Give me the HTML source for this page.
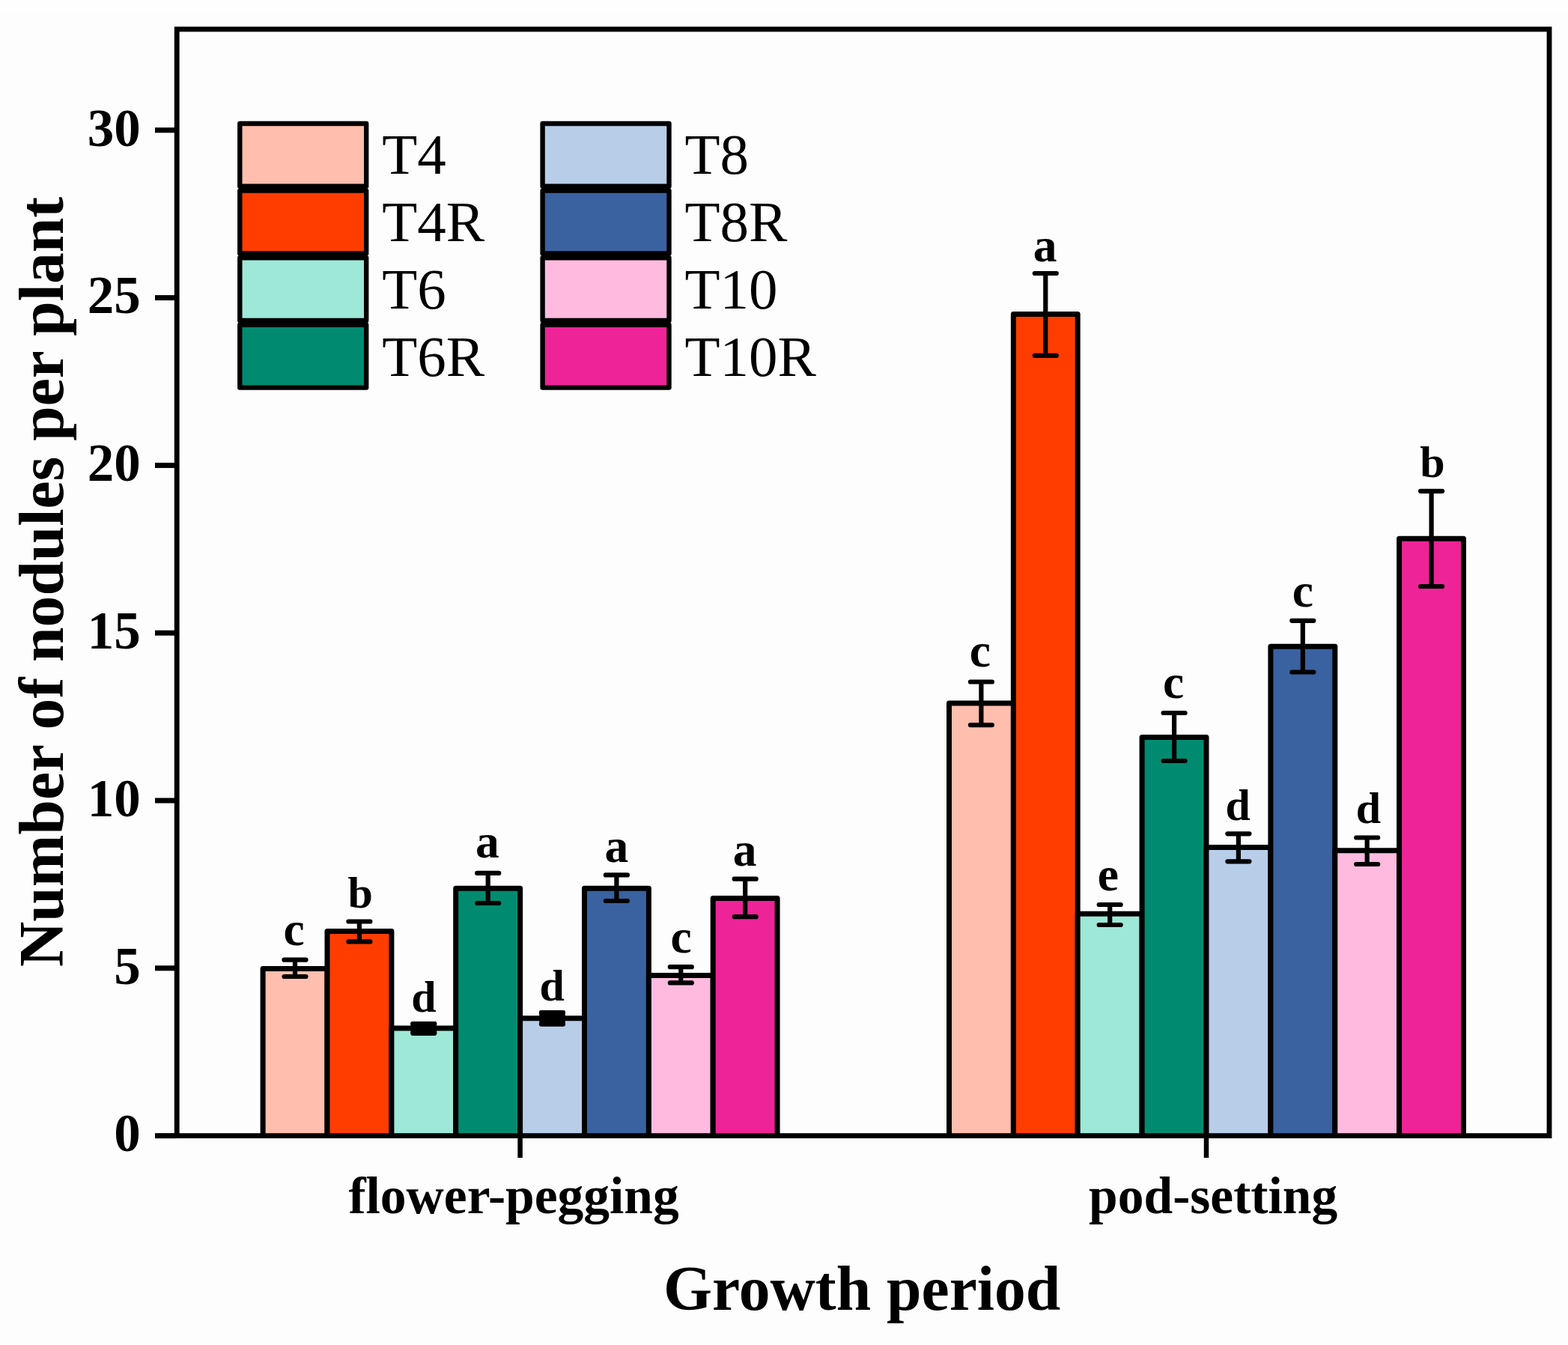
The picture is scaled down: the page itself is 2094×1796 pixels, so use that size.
<!DOCTYPE html><html><head><meta charset="utf-8"><style>html,body{margin:0;padding:0;background:#fdfdfd;}svg{display:block;}text{font-family:"Liberation Serif","Times New Roman",serif;}</style></head><body>
<svg width="2094" height="1796" viewBox="0 0 2094 1796">
<rect x="0" y="0" width="2094" height="1796" fill="#fdfdfd"/><rect x="0" y="0" width="2094" height="18" fill="#fefefe"/>
<path d="M351.1 1516.6V1293.5H437.0V1516.6" fill="#FFBEAE" stroke="#000" stroke-width="7" stroke-linejoin="round"/>
<path d="M437.0 1516.6V1243.4H522.9V1516.6" fill="#FF3D00" stroke="#000" stroke-width="7" stroke-linejoin="round"/>
<path d="M522.9 1516.6V1373.0H608.7V1516.6" fill="#9EE8D8" stroke="#000" stroke-width="7" stroke-linejoin="round"/>
<path d="M608.7 1516.6V1186.3H694.6V1516.6" fill="#008B70" stroke="#000" stroke-width="7" stroke-linejoin="round"/>
<path d="M694.6 1516.6V1359.7H780.5V1516.6" fill="#B8CDE8" stroke="#000" stroke-width="7" stroke-linejoin="round"/>
<path d="M780.5 1516.6V1186.3H866.4V1516.6" fill="#3A62A0" stroke="#000" stroke-width="7" stroke-linejoin="round"/>
<path d="M866.4 1516.6V1302.6H952.2V1516.6" fill="#FFBBDF" stroke="#000" stroke-width="7" stroke-linejoin="round"/>
<path d="M952.2 1516.6V1199.4H1038.1V1516.6" fill="#EE2398" stroke="#000" stroke-width="7" stroke-linejoin="round"/>
<path d="M1267.5 1516.6V939.0H1353.4V1516.6" fill="#FFBEAE" stroke="#000" stroke-width="7" stroke-linejoin="round"/>
<path d="M1353.4 1516.6V419.5H1439.2V1516.6" fill="#FF3D00" stroke="#000" stroke-width="7" stroke-linejoin="round"/>
<path d="M1439.2 1516.6V1220.3H1525.1V1516.6" fill="#9EE8D8" stroke="#000" stroke-width="7" stroke-linejoin="round"/>
<path d="M1525.1 1516.6V984.5H1611.0V1516.6" fill="#008B70" stroke="#000" stroke-width="7" stroke-linejoin="round"/>
<path d="M1611.0 1516.6V1131.4H1696.9V1516.6" fill="#B8CDE8" stroke="#000" stroke-width="7" stroke-linejoin="round"/>
<path d="M1696.9 1516.6V863.2H1782.8V1516.6" fill="#3A62A0" stroke="#000" stroke-width="7" stroke-linejoin="round"/>
<path d="M1782.8 1516.6V1135.8H1868.6V1516.6" fill="#FFBBDF" stroke="#000" stroke-width="7" stroke-linejoin="round"/>
<path d="M1868.6 1516.6V719.3H1954.5V1516.6" fill="#EE2398" stroke="#000" stroke-width="7" stroke-linejoin="round"/>
<path d="M379.5 1281.7H408.5M379.5 1304.0H408.5M394.0 1281.7V1304.0" fill="none" stroke="#000" stroke-width="6.2" stroke-linecap="round"/>
<text x="392.5" y="1262.3" font-size="63.5" font-weight="bold" text-anchor="middle">c</text>
<path d="M465.4 1230.5H494.4M465.4 1257.4H494.4M479.9 1230.5V1257.4" fill="none" stroke="#000" stroke-width="6.2" stroke-linecap="round"/>
<text x="481.1" y="1212.0" font-size="60" font-weight="bold" text-anchor="middle">b</text>
<rect x="548.5" y="1363.9" width="34.6" height="18.8" rx="3" fill="#000"/>
<path d="M551.3 1367.0H580.3M551.3 1379.6H580.3M565.8 1367.0V1379.6" fill="none" stroke="#000" stroke-width="6.2" stroke-linecap="round"/>
<text x="565.9" y="1350.5" font-size="60" font-weight="bold" text-anchor="middle">d</text>
<path d="M637.2 1165.9H666.2M637.2 1206.0H666.2M651.7 1165.9V1206.0" fill="none" stroke="#000" stroke-width="6.2" stroke-linecap="round"/>
<text x="650.8" y="1144.8" font-size="63.5" font-weight="bold" text-anchor="middle">a</text>
<rect x="720.2" y="1348.9" width="34.6" height="21.7" rx="3" fill="#000"/>
<path d="M723.0 1352.0H752.0M723.0 1367.5H752.0M737.5 1352.0V1367.5" fill="none" stroke="#000" stroke-width="6.2" stroke-linecap="round"/>
<text x="737.3" y="1335.8" font-size="60" font-weight="bold" text-anchor="middle">d</text>
<path d="M808.9 1168.4H837.9M808.9 1203.0H837.9M823.4 1168.4V1203.0" fill="none" stroke="#000" stroke-width="6.2" stroke-linecap="round"/>
<text x="823.3" y="1151.3" font-size="63.5" font-weight="bold" text-anchor="middle">a</text>
<path d="M894.8 1291.2H923.8M894.8 1312.4H923.8M909.3 1291.2V1312.4" fill="none" stroke="#000" stroke-width="6.2" stroke-linecap="round"/>
<text x="909.5" y="1271.5" font-size="63.5" font-weight="bold" text-anchor="middle">c</text>
<path d="M980.7 1173.7H1009.7M980.7 1224.2H1009.7M995.2 1173.7V1224.2" fill="none" stroke="#000" stroke-width="6.2" stroke-linecap="round"/>
<text x="994.5" y="1156.2" font-size="63.5" font-weight="bold" text-anchor="middle">a</text>
<path d="M1295.9 910.5H1324.9M1295.9 968.1H1324.9M1310.4 910.5V968.1" fill="none" stroke="#000" stroke-width="6.2" stroke-linecap="round"/>
<text x="1308.8" y="890.4" font-size="63.5" font-weight="bold" text-anchor="middle">c</text>
<path d="M1381.8 365.0H1410.8M1381.8 474.8H1410.8M1396.3 365.0V474.8" fill="none" stroke="#000" stroke-width="6.2" stroke-linecap="round"/>
<text x="1395.6" y="348.6" font-size="63.5" font-weight="bold" text-anchor="middle">a</text>
<path d="M1467.7 1208.0H1496.7M1467.7 1235.0H1496.7M1482.2 1208.0V1235.0" fill="none" stroke="#000" stroke-width="6.2" stroke-linecap="round"/>
<text x="1479.9" y="1188.6" font-size="63.5" font-weight="bold" text-anchor="middle">e</text>
<path d="M1553.6 952.0H1582.6M1553.6 1016.0H1582.6M1568.1 952.0V1016.0" fill="none" stroke="#000" stroke-width="6.2" stroke-linecap="round"/>
<text x="1567.0" y="931.6" font-size="63.5" font-weight="bold" text-anchor="middle">c</text>
<path d="M1639.4 1113.3H1668.4M1639.4 1150.3H1668.4M1653.9 1113.3V1150.3" fill="none" stroke="#000" stroke-width="6.2" stroke-linecap="round"/>
<text x="1653.2" y="1095.1" font-size="60" font-weight="bold" text-anchor="middle">d</text>
<path d="M1725.3 828.8H1754.3M1725.3 897.5H1754.3M1739.8 828.8V897.5" fill="none" stroke="#000" stroke-width="6.2" stroke-linecap="round"/>
<text x="1739.9" y="810.2" font-size="63.5" font-weight="bold" text-anchor="middle">c</text>
<path d="M1811.2 1118.5H1840.2M1811.2 1154.0H1840.2M1825.7 1118.5V1154.0" fill="none" stroke="#000" stroke-width="6.2" stroke-linecap="round"/>
<text x="1827.5" y="1098.5" font-size="60" font-weight="bold" text-anchor="middle">d</text>
<path d="M1897.1 655.8H1926.1M1897.1 783.0H1926.1M1911.6 655.8V783.0" fill="none" stroke="#000" stroke-width="6.2" stroke-linecap="round"/>
<text x="1913.0" y="637.1" font-size="60" font-weight="bold" text-anchor="middle">b</text>
<rect x="236.2" y="39" width="1832.8" height="1477.6" fill="none" stroke="#000" stroke-width="6.8"/>
<line x1="207" y1="1516.6" x2="236" y2="1516.6" stroke="#000" stroke-width="7"/>
<text x="187.7" y="1537.3" font-size="71" font-weight="bold" text-anchor="end">0</text>
<line x1="207" y1="1292.8" x2="236" y2="1292.8" stroke="#000" stroke-width="7"/>
<text x="187.7" y="1313.5" font-size="71" font-weight="bold" text-anchor="end">5</text>
<line x1="207" y1="1069.0" x2="236" y2="1069.0" stroke="#000" stroke-width="7"/>
<text x="187.7" y="1089.7" font-size="71" font-weight="bold" text-anchor="end">10</text>
<line x1="207" y1="845.2" x2="236" y2="845.2" stroke="#000" stroke-width="7"/>
<text x="187.7" y="865.9" font-size="71" font-weight="bold" text-anchor="end">15</text>
<line x1="207" y1="621.4" x2="236" y2="621.4" stroke="#000" stroke-width="7"/>
<text x="187.7" y="642.1" font-size="71" font-weight="bold" text-anchor="end">20</text>
<line x1="207" y1="397.6" x2="236" y2="397.6" stroke="#000" stroke-width="7"/>
<text x="187.7" y="418.3" font-size="71" font-weight="bold" text-anchor="end">25</text>
<line x1="207" y1="173.8" x2="236" y2="173.8" stroke="#000" stroke-width="7"/>
<text x="187.7" y="194.5" font-size="71" font-weight="bold" text-anchor="end">30</text>
<line x1="694.6" y1="1516.6" x2="694.6" y2="1546" stroke="#000" stroke-width="6.5"/>
<line x1="1611.0" y1="1516.6" x2="1611.0" y2="1546" stroke="#000" stroke-width="6.5"/>
<text x="465.4" y="1620" font-size="69.5" font-weight="bold">flower-pegging</text>
<text x="1454.1" y="1619.8" font-size="69.5" font-weight="bold">pod-setting</text>
<text x="886.1" y="1749.3" font-size="83.6" font-weight="bold">Growth period</text>
<text transform="translate(83.8 1291) rotate(-90)" x="0" y="0" font-size="83.6" font-weight="bold">Number of nodules per plant</text>
<rect x="320.3" y="165.0" width="168.9" height="83.8" fill="#FFBEAE" stroke="#000" stroke-width="6.4" stroke-linejoin="round"/>
<text x="510.3" y="232.3" font-size="77">T4</text>
<rect x="320.3" y="254.6" width="168.9" height="83.8" fill="#FF3D00" stroke="#000" stroke-width="6.4" stroke-linejoin="round"/>
<text x="510.3" y="322.1" font-size="77">T4R</text>
<rect x="320.3" y="344.2" width="168.9" height="83.8" fill="#9EE8D8" stroke="#000" stroke-width="6.4" stroke-linejoin="round"/>
<text x="510.3" y="411.9" font-size="77">T6</text>
<rect x="320.3" y="433.8" width="168.9" height="83.8" fill="#008B70" stroke="#000" stroke-width="6.4" stroke-linejoin="round"/>
<text x="510.3" y="501.7" font-size="77">T6R</text>
<rect x="724.6" y="165.0" width="168.9" height="83.8" fill="#B8CDE8" stroke="#000" stroke-width="6.4" stroke-linejoin="round"/>
<text x="914.5" y="232.3" font-size="77">T8</text>
<rect x="724.6" y="254.6" width="168.9" height="83.8" fill="#3A62A0" stroke="#000" stroke-width="6.4" stroke-linejoin="round"/>
<text x="914.5" y="322.1" font-size="77">T8R</text>
<rect x="724.6" y="344.2" width="168.9" height="83.8" fill="#FFBBDF" stroke="#000" stroke-width="6.4" stroke-linejoin="round"/>
<text x="914.5" y="411.9" font-size="77">T10</text>
<rect x="724.6" y="433.8" width="168.9" height="83.8" fill="#EE2398" stroke="#000" stroke-width="6.4" stroke-linejoin="round"/>
<text x="914.5" y="501.7" font-size="77">T10R</text>
</svg></body></html>
